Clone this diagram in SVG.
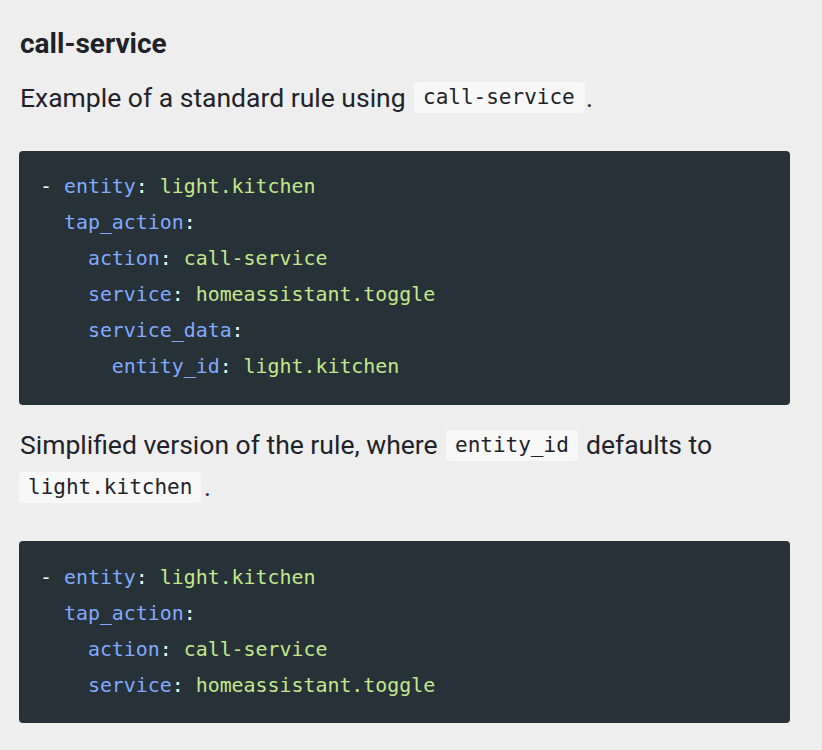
<svg xmlns="http://www.w3.org/2000/svg" width="822" height="750" viewBox="0 0 822 750">
<style>
.h{font-family:Roboto,"Liberation Sans",sans-serif;font-weight:bold;font-size:28px;fill:#1f2329}
.p{font-family:Roboto,"Liberation Sans",sans-serif;font-size:26.5px;fill:#1f2329}
.ic{font-family:"DejaVu Sans Mono","Liberation Mono",monospace;font-size:21px;fill:#1f2329}
.icbg{fill:#f8f8f8}
.blk{fill:#263238}
.c{font-family:"DejaVu Sans Mono","Liberation Mono",monospace;font-size:19.9px;fill:#eeffff}
.k{fill:#82aaff}
.v{fill:#c3e88d}
</style>
<rect width="822" height="750" fill="#eeeeee"/>
<g id="heading"><text class="h" x="20" y="53">call-service</text></g>
<g id="para1">
<text class="p" x="20" y="107">Example of a standard rule using</text>
<rect class="icbg" x="414" y="82" width="171" height="31" rx="4"/>
<text class="ic" x="423" y="104">call-service</text>
<text class="p" x="586" y="107">.</text>
</g>
<g id="code1">
<rect class="blk" x="19" y="151" width="771" height="254" rx="4"/>
<text class="c" x="40" y="193">- <tspan class="k">entity</tspan>: <tspan class="v">light.kitchen</tspan></text>
<text class="c" x="40" y="229" xml:space="preserve">  <tspan class="k">tap_action</tspan>:</text>
<text class="c" x="40" y="265" xml:space="preserve">    <tspan class="k">action</tspan>: <tspan class="v">call-service</tspan></text>
<text class="c" x="40" y="301" xml:space="preserve">    <tspan class="k">service</tspan>: <tspan class="v">homeassistant.toggle</tspan></text>
<text class="c" x="40" y="337" xml:space="preserve">    <tspan class="k">service_data</tspan>:</text>
<text class="c" x="40" y="373" xml:space="preserve">      <tspan class="k">entity_id</tspan>: <tspan class="v">light.kitchen</tspan></text>
</g>
<g id="para2">
<text class="p" x="20" y="454">Simplified version of the rule, where</text>
<rect class="icbg" x="446" y="430" width="132" height="31" rx="4"/>
<text class="ic" x="455" y="452">entity_id</text>
<text class="p" x="586" y="454">defaults to</text>
<rect class="icbg" x="19" y="472" width="182" height="31" rx="4"/>
<text class="ic" x="28" y="494">light.kitchen</text>
<text class="p" x="204" y="496">.</text>
</g>
<g id="code2">
<rect class="blk" x="19" y="541" width="771" height="182" rx="4"/>
<text class="c" x="40" y="584">- <tspan class="k">entity</tspan>: <tspan class="v">light.kitchen</tspan></text>
<text class="c" x="40" y="620" xml:space="preserve">  <tspan class="k">tap_action</tspan>:</text>
<text class="c" x="40" y="656" xml:space="preserve">    <tspan class="k">action</tspan>: <tspan class="v">call-service</tspan></text>
<text class="c" x="40" y="692" xml:space="preserve">    <tspan class="k">service</tspan>: <tspan class="v">homeassistant.toggle</tspan></text>
</g>
</svg>
